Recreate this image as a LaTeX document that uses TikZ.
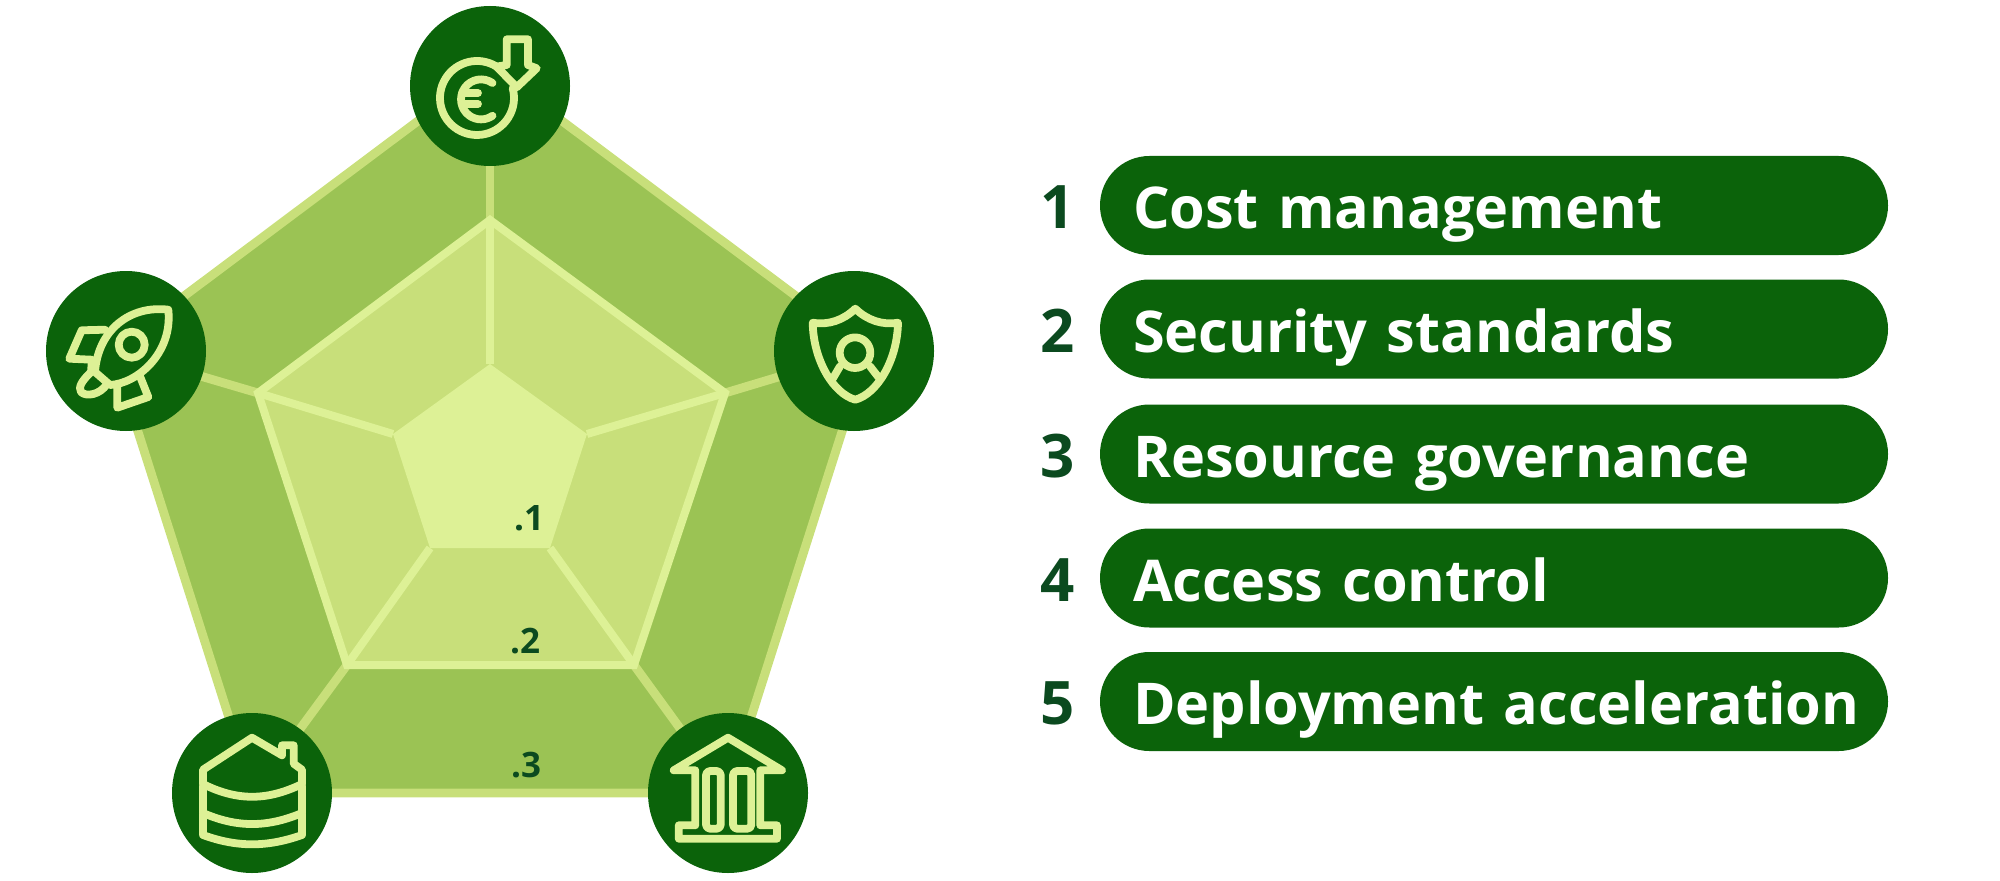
\documentclass[tikz,border=0pt]{standalone}
\usepackage{fontspec}
\setmainfont{Open Sans}[WordSpace=0.7]
\usetikzlibrary{positioning}
\definecolor{leafdark}{HTML}{0B630A}
\definecolor{numdark}{HTML}{0B4A1F}
\definecolor{ringout}{HTML}{9BC354}
\definecolor{ringmid}{HTML}{C8DF7A}
\definecolor{ringin}{HTML}{DDF196}

\begin{document}
\begin{tikzpicture}[
    x=0.5pt, y=0.5pt,
    badge/.style={circle, fill=leafdark, minimum size=80pt, inner sep=0pt},
    pill/.style={fill=leafdark, text=white, minimum height=49.5pt, rounded corners=24.7pt, inner xsep=16.5pt, inner ysep=0pt, text width=361pt, text height=30pt, text depth=6.6pt, align=left, font=\fontsize{28.8}{34}\selectfont\bfseries},
    num/.style={text=numdark, inner sep=0pt, text height=30pt, text depth=6.6pt, font=\fontsize{30}{34}\selectfont\bfseries},
    scalelabel/.style={text=numdark, inner sep=0pt, font=\fontsize{17.5}{20}\selectfont\bfseries},
    icon/.style={draw=ringin, line width=3.9pt, line join=round, line cap=round},
    edgeout/.style={draw=ringmid, line width=4.4pt},
    edgein/.style={draw=ringin, line width=4pt}
]
    \useasboundingbox (0,0) rectangle (2000,880);

    % pentagon corners
    \coordinate (outerA) at (490,813);
    \coordinate (outerB) at (868,530);
    \coordinate (outerC) at (727,87);
    \coordinate (outerD) at (253,87);
    \coordinate (outerE) at (112,530);
    \coordinate (midA) at (490,660);
    \coordinate (midB) at (725,487);
    \coordinate (midC) at (634,215);
    \coordinate (midD) at (347,215);
    \coordinate (midE) at (258,487);
    \coordinate (innerA) at (490,516);
    \coordinate (innerB) at (587,446);
    \coordinate (innerC) at (550,332);
    \coordinate (innerD) at (430,332);
    \coordinate (innerE) at (393,446);

    % outer ring
    \draw[edgeout, fill=ringout] (outerA) -- (outerB) -- (outerC) -- (outerD) -- (outerE) -- cycle;
    \draw[edgeout] (midA) -- (outerA);
    \draw[edgeout] (midB) -- (outerB);
    \draw[edgeout] (midC) -- (outerC);
    \draw[edgeout] (midD) -- (outerD);
    \draw[edgeout] (midE) -- (outerE);

    % middle ring
    \draw[edgein, fill=ringmid] (midA) -- (midB) -- (midC) -- (midD) -- (midE) -- cycle;
    \draw[edgein] (innerA) -- (midA);
    \draw[edgein] (innerB) -- (midB);
    \draw[edgein] (innerC) -- (midC);
    \draw[edgein] (innerD) -- (midD);
    \draw[edgein] (innerE) -- (midE);

    % inner ring
    \fill[ringin] (innerA) -- (innerB) -- (innerC) -- (innerD) -- (innerE) -- cycle;

    % scale labels
    \node[scalelabel] (one) at (529,362) {.1};
    \node[scalelabel] (two) at (525,239) {.2};
    \node[scalelabel] (three) at (526,115) {.3};

    % badges
    \node[badge] (cost) at (490,794) {};
    \node[badge] (shield) at (854,529) {};
    \node[badge] (bank) at (728,87) {};
    \node[badge] (silo) at (252,87) {};
    \node[badge] (rocket) at (126,529) {};

    % euro with arrow
    \begin{scope}[shift={(cost.center)}]
        \draw[icon] (6.6,19.4) arc[start angle=58, end angle=375, radius=37];
        \draw[icon] (6.6,19.4) -- (16.7,21) -- (16.7,46.7) -- (38,46.7) -- (38,21) -- (46.7,17.7) -- (26.7,-1.3) -- cycle;
        \draw[icon] (2.5,3) arc[start angle=55, end angle=305, radius=20];
        \draw[icon] (-28,-7) -- (-12,-7);
        \draw[icon] (-28,-18) -- (-12,-18);
    \end{scope}

    % rocket
    \begin{scope}[shift={(rocket.center)}]
        \draw[icon] (42.3,41.3) .. controls (4,46) and (-28,21) .. (-31,-21) -- (-16,-34) .. controls (10.7,-32.7) and (47,-2.7) .. cycle;
        \draw[icon] (5.7,6.3) circle[radius=13];
        \draw[icon] (-21,21.3) -- (-44.3,20.7) -- (-56.7,-7.7) -- (-34,-8.7) -- (-35,-21);
        \draw[icon] (-8.7,-33) -- (-8.7,-56.7) -- (22.3,-46) -- (14,-25.3);
        \draw[icon] (-36,-22) .. controls (-44,-30) and (-48,-36) .. (-45,-41) .. controls (-40,-46) and (-26,-44) .. (-19,-33);
    \end{scope}

    % shield with person
    \begin{scope}[shift={(shield.center)}]
        \draw[icon] (1.3,42.3) .. controls (-10.7,30.7) and (-25.7,25.7) .. (-41.3,28.3) .. controls (-40.7,-9.3) and (-20.7,-42.7) .. (1.3,-48.7) .. controls (23.3,-42.7) and (43.3,-9.3) .. (44,28.3) .. controls (28.3,25.7) and (13.3,30.7) .. cycle;
        \draw[icon] (1,-1.7) circle[radius=15.3];
        \draw[icon] (-14,-15.3) -- (-21.3,-27.7);
        \draw[icon] (16,-15.3) -- (24.3,-26);
    \end{scope}

    % stacked discs with roof
    \begin{scope}[shift={(silo.center)}]
        \draw[icon] (0,55.3) -- (30,37.7) -- (30,47.7) -- (41.7,47.7) -- (41.7,29.3) -- (50,23.3) -- (50,9) .. controls (15,-8) and (-15,-8) .. (-49,9) -- (-49,23.3) -- cycle;
        \draw[icon] (-49,7) -- (-49,-20) .. controls (-15,-34.7) and (15,-34.7) .. (50,-20) -- (50,7);
        \draw[icon] (-49,-21) -- (-49,-42) .. controls (-15,-54.4) and (15,-54.4) .. (50,-42) -- (50,-21);
    \end{scope}

    % bank
    \begin{scope}[shift={(bank.center)}]
        \draw[icon] (0,55.3) -- (54,22.7) -- (32.3,22.7) -- (32.3,-32.3) -- (49,-32.3) -- (49,-45.7) -- (-49.3,-45.7) -- (-49.3,-32.3) -- (-32.7,-32.3) -- (-32.7,22.7) -- (-54.3,22.7) -- cycle;
        \draw[icon, rounded corners=2pt] (-22,22) rectangle (-7.3,-35.7);
        \draw[icon, rounded corners=2pt] (5,22) rectangle (23.3,-35.7);
    \end{scope}

    % list on the right
    \node[pill] (costpill) at (1494,674.5) {Cost management};
    \node[pill] (securitypill) at (1494,551) {Security standards};
    \node[pill] (resourcepill) at (1494,426) {Resource governance};
    \node[pill] (accesspill) at (1494,302) {Access control};
    \node[pill] (deploypill) at (1494,178.5) {\mbox{Deployment acceleration}};

    \node[num, left=12pt of costpill] (numone) {1};
    \node[num, left=12pt of securitypill] (numtwo) {2};
    \node[num, left=12pt of resourcepill] (numthree) {3};
    \node[num, left=12pt of accesspill] (numfour) {4};
    \node[num, left=12pt of deploypill] (numfive) {5};

\end{tikzpicture}
\end{document}
